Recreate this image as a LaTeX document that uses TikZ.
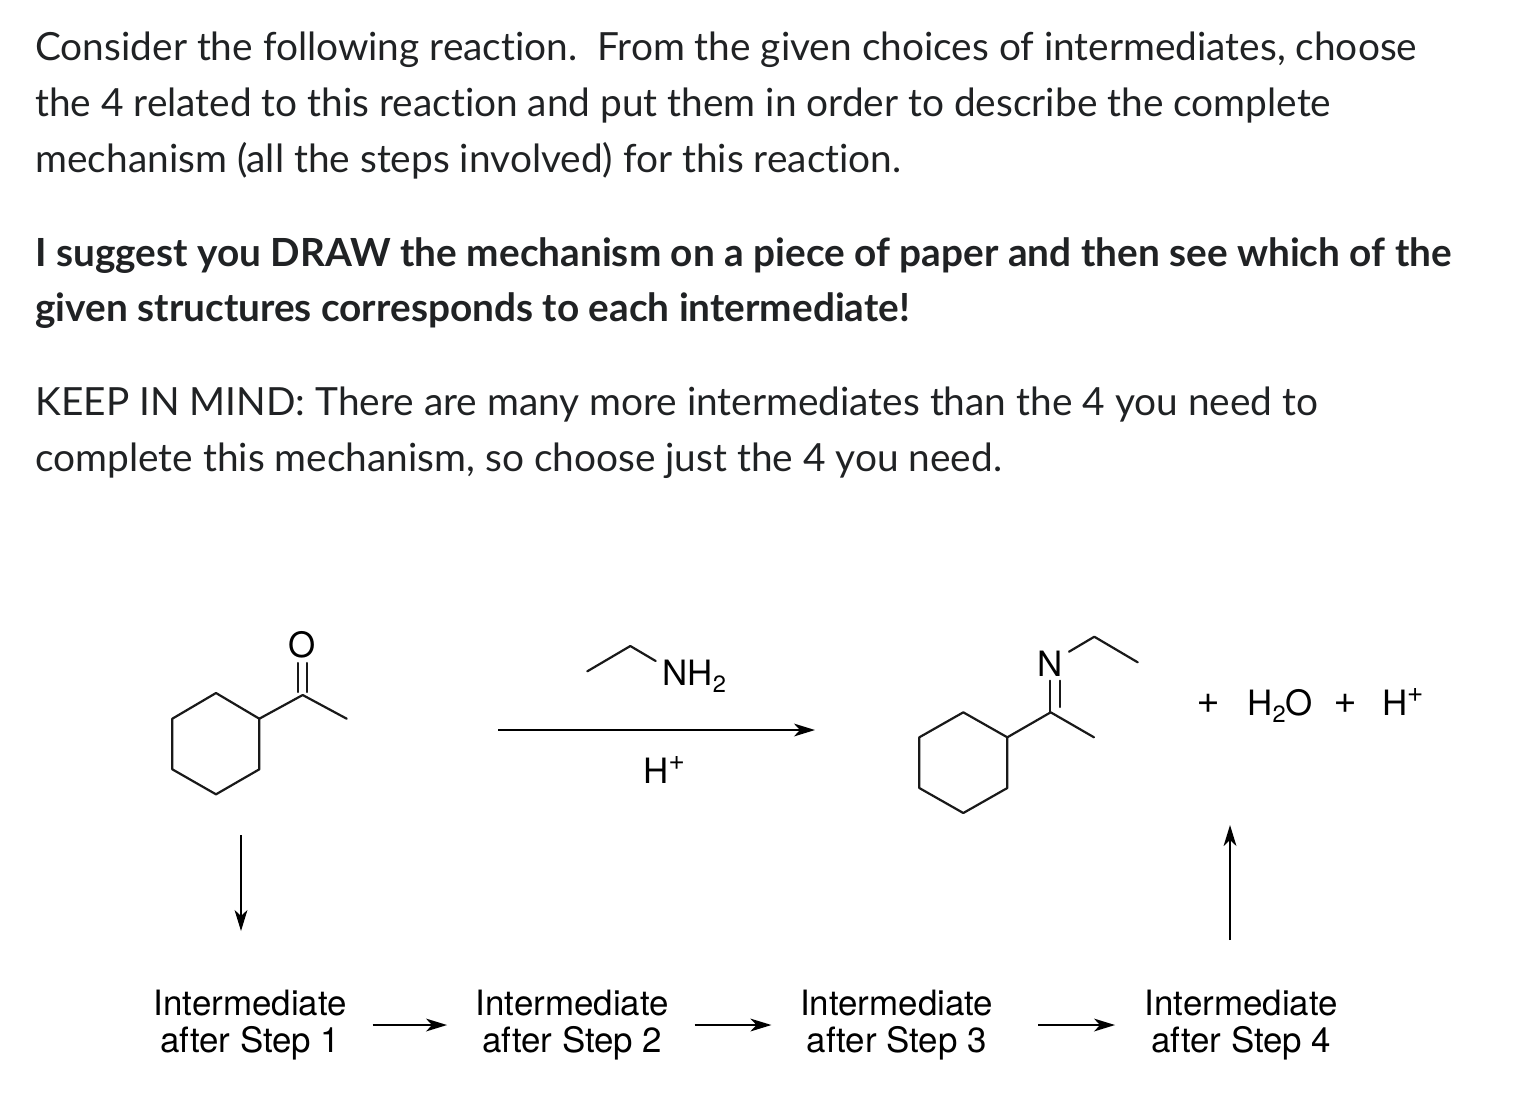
\documentclass[tikz,border=0pt]{standalone}
\usepackage{fontspec}
\setmainfont[Ligatures=NoCommon]{Lato}
\newfontfamily\helv{TeX Gyre Heros}
\newfontfamily\plusfont{Liberation Sans}
\usetikzlibrary{arrows.meta}
\newcommand\sbs[1]{\raisebox{-0.22em}{\fontsize{11.8}{11.8}\selectfont #1}}
\newcommand\sps[1]{\raisebox{0.33em}{\plusfont\fontsize{13}{13}\selectfont #1}}
\definecolor{ink}{RGB}{32,34,36}
\tikzset{
  body/.style={anchor=base west,inner sep=0pt,text=ink,font=\fontsize{19.41}{19.41}\selectfont},
  bodyb/.style={body,font=\fontsize{19.38}{19.38}\selectfont\bfseries},
  chem/.style={inner sep=0pt,text=black,font=\helv\fontsize{17.45}{17.45}\selectfont},
  chembase/.style={chem,anchor=base west},
  plussign/.style={chem,anchor=base west,font=\plusfont\fontsize{18.4}{18.4}\selectfont},
  interm/.style={chem,align=center,font=\helv\fontsize{17.45}{18.6}\selectfont},
  bond/.style={draw=black!90,line width=1.1pt,line cap=round,line join=round},
  arr/.style={draw=black,line width=1pt,-{Stealth[length=10.5pt,width=6.4pt,inset=3pt]}},
}
\begin{document}
\begin{tikzpicture}[x=0.5pt,y=-0.5pt]
\useasboundingbox[fill=white] (0,0) rectangle (1534,1094);
% text
\node[body] (t1) at (35,60) {Consider the following reaction.\ \ From the given choices of intermediates, choose};
\node[body] (t2) at (35,116) {the 4 related to this reaction and put them in order to describe the complete};
\node[body] (t3) at (35,172) {mechanism (all the steps involved) for this reaction.};
\node[bodyb] (t4) at (35,266) {I suggest you DRAW the mechanism on a piece of paper and then see which of the};
\node[bodyb] (t5) at (35,321) {given structures corresponds to each intermediate!};
\node[body] (t6) at (35,415) {KEEP IN MIND: There are many more intermediates than the 4 you need to};
\node[body] (t7) at (35,471) {complete this mechanism, so choose just the 4 you need.};
% ketone
\coordinate (a1) at (216,693);
\coordinate (a2) at (259.3,718.7);
\coordinate (a3) at (259.3,769.3);
\coordinate (a4) at (216,794.3);
\coordinate (a5) at (172.3,769.3);
\coordinate (a6) at (172.3,718.7);
\coordinate (ac) at (302.7,695);
\coordinate (am) at (346.7,718.7);
\coordinate (ad1) at (298.3,692);
\coordinate (ad2) at (298.3,663);
\coordinate (ad3) at (307.3,692);
\coordinate (ad4) at (307.3,663);
\draw[bond] (a1)--(a2)--(a3)--(a4)--(a5)--(a6)--cycle;
\draw[bond] (a2)--(ac)--(am);
\draw[bond] (ad1)--(ad2) (ad3)--(ad4);
\node[chem] (oxy) at (302.5,645) {O};
% imine
\coordinate (b1) at (963.3,712.3);
\coordinate (b2) at (1007.3,737.3);
\coordinate (b3) at (1007.3,788);
\coordinate (b4) at (963.3,813);
\coordinate (b5) at (919.3,788);
\coordinate (b6) at (919.3,737.3);
\coordinate (bc) at (1050.7,712.3);
\coordinate (bm) at (1094,737.3);
\coordinate (bd1) at (1050.3,712);
\coordinate (bd2) at (1050.3,680.7);
\coordinate (bd3) at (1060,707);
\coordinate (bd4) at (1060,680.7);
\coordinate (be1) at (1069,651.7);
\coordinate (be2) at (1094.3,636.7);
\coordinate (be3) at (1137.7,662.3);
\draw[bond] (b1)--(b2)--(b3)--(b4)--(b5)--(b6)--cycle;
\draw[bond] (b2)--(bc)--(bm);
\draw[bond] (bd1)--(bd2) (bd3)--(bd4);
\draw[bond] (be1)--(be2)--(be3);
\node[chem] (nit) at (1050.5,663.5) {N};
% reagent
\coordinate (r1) at (587.3,671.3);
\coordinate (r2) at (630.3,646);
\coordinate (r3) at (655.7,661);
\draw[bond] (r1)--(r2)--(r3);
\node[chembase] (nh2) at (662,685) {NH\sbs{2}};
\coordinate (rs) at (498.3,730);
\coordinate (re) at (815,730);
\draw[arr] (rs)--(re);
\node[chembase] (hp) at (643.5,783) {H\sps{+}};
% products
\node[plussign] (plus1) at (1197,715) {+};
\node[chembase] (water) at (1247,715) {H\sbs{2}O};
\node[plussign] (plus2) at (1334,715) {+};
\node[chembase] (hp2) at (1382,715) {H\sps{+}};
% vertical arrows
\coordinate (vs) at (241,835);
\coordinate (ve) at (241,931);
\draw[arr] (vs)--(ve);
\coordinate (us) at (1230,940);
\coordinate (ue) at (1230,825);
\draw[arr] (us)--(ue);
% intermediates
\node[interm] (i1) at (250.3,1025) {Intermediate\\after Step 1};
\node[interm] (i2) at (572.3,1025) {Intermediate\\after Step 2};
\node[interm] (i3) at (896.7,1025) {Intermediate\\after Step 3};
\node[interm] (i4) at (1241.3,1025) {Intermediate\\after Step 4};
\draw[arr,shorten <=12.7pt,shorten >=14.2pt] (i1.east)--(i2.west);
\draw[arr,shorten <=12.7pt,shorten >=14.2pt] (i2.east)--(i3.west);
\draw[arr,shorten <=22.3pt,shorten >=14.7pt] (i3.east)--(i4.west);
\end{tikzpicture}
\end{document}
